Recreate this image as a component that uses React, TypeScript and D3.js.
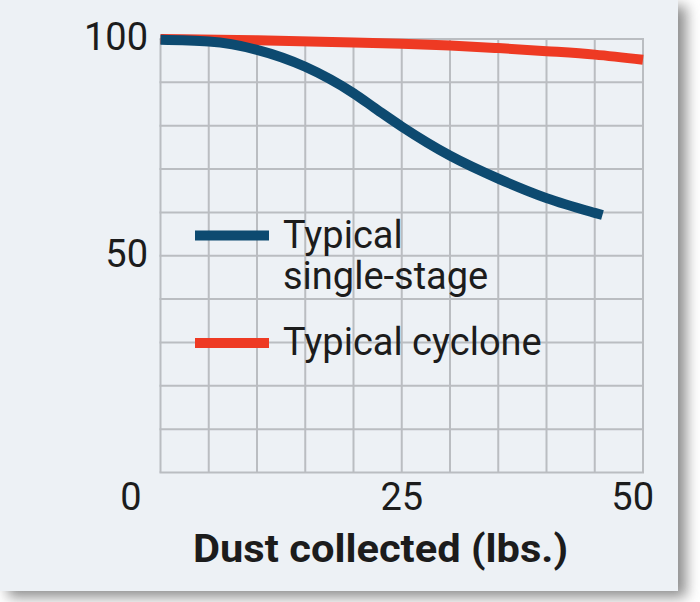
import React, { useEffect, useRef } from 'react';
import * as d3 from 'd3';

// Dust collected (lbs.) vs. suction (% of max)
const singleStageX = [0, 5, 10, 15, 20, 22.5, 25, 30, 35, 40, 45, 45.8];
const singleStageY = [99.8, 99.4, 97.5, 93.6, 87.5, 83.6, 79.8, 73.1, 67.8, 63.3, 59.9, 59.4];

const cycloneX = [0, 10, 20, 25, 30, 35, 40, 45, 50];
const cycloneY = [100, 99.7, 99.2, 98.9, 98.5, 97.9, 97.2, 96.4, 95.2];

const xTicks = [0, 25, 50];
const yTicks = [50, 100];

const legendItems = [
  { label: ['Typical', 'single-stage'], color: '#0d4a70' },
  { label: ['Typical cyclone'], color: '#ee3a23' },
];

const FONT = "Roboto, 'Liberation Sans', sans-serif";
const TEXT = '#1c1c1c';

const App: React.FC = () => {
  const svgRef = useRef<SVGSVGElement>(null);

  useEffect(() => {
    const W = 700;
    const H = 602;
    const svg = d3.select(svgRef.current);
    svg.selectAll('*').remove();
    svg.attr('width', W).attr('height', H).style('background', '#ffffff');

    // Panel with soft drop shadow
    const defs = svg.append('defs');
    const blur = defs.append('filter').attr('id', 'shadow')
      .attr('x', '-10%').attr('y', '-10%').attr('width', '130%').attr('height', '130%');
    blur.append('feGaussianBlur').attr('stdDeviation', 7);

    svg.append('rect')
      .attr('x', 8).attr('y', 6)
      .attr('width', 678).attr('height', 591)
      .attr('fill', '#8a8a8a')
      .attr('filter', 'url(#shadow)');
    svg.append('rect')
      .attr('x', 0).attr('y', 0)
      .attr('width', 678).attr('height', 591)
      .attr('fill', '#edf1f5');

    const x = d3.scaleLinear().domain([0, 50]).range([160.5, 643]);
    const y = d3.scaleLinear().domain([0, 100]).range([472.5, 39]);

    // Grid
    const grid = svg.append('g').attr('stroke', '#babdc1').attr('stroke-width', 2);
    grid.selectAll('.vline')
      .data(d3.range(0, 51, 5))
      .enter().append('line')
      .attr('x1', d => x(d)).attr('x2', d => x(d))
      .attr('y1', y(0)).attr('y2', y(100));
    grid.selectAll('.hline')
      .data(d3.range(0, 101, 10))
      .enter().append('line')
      .attr('x1', x(0) - 1).attr('x2', x(50) + 1)
      .attr('y1', d => y(d)).attr('y2', d => y(d));

    // Lines
    const line = d3.line<[number, number]>()
      .x(d => x(d[0]))
      .y(d => y(d[1]))
      .curve(d3.curveMonotoneX);

    const cyclone = cycloneX.map((v, i) => [v, cycloneY[i]] as [number, number]);
    const single = singleStageX.map((v, i) => [v, singleStageY[i]] as [number, number]);

    svg.append('path')
      .datum(cyclone)
      .attr('fill', 'none')
      .attr('stroke', legendItems[1].color)
      .attr('stroke-width', 10)
      .attr('d', line);

    svg.append('path')
      .datum(single)
      .attr('fill', 'none')
      .attr('stroke', legendItems[0].color)
      .attr('stroke-width', 10)
      .attr('d', line);

    // Y tick labels
    svg.selectAll('.ytick')
      .data(yTicks)
      .enter().append('text')
      .attr('x', 148)
      .attr('y', d => y(d) + 11)
      .attr('text-anchor', 'end')
      .style('font-family', FONT)
      .style('font-size', '38px')
      .style('fill', TEXT)
      .text(d => String(d));

    // X tick labels (0 sits at the corner, 50 pulled inside the panel)
    svg.selectAll('.xtick')
      .data(xTicks)
      .enter().append('text')
      .attr('x', (d, i) => (i === 0 ? x(d) - 19 : i === xTicks.length - 1 ? x(d) + 11 : x(d)))
      .attr('y', 510)
      .attr('text-anchor', (_, i) => (i === 0 || i === xTicks.length - 1 ? 'end' : 'middle'))
      .style('font-family', FONT)
      .style('font-size', '38px')
      .style('fill', TEXT)
      .text(d => String(d));

    // X axis title
    svg.append('text')
      .attr('x', 193)
      .attr('y', 562)
      .attr('textLength', 375)
      .attr('lengthAdjust', 'spacingAndGlyphs')
      .style('font-family', FONT)
      .style('font-size', '38px')
      .style('font-weight', 'bold')
      .style('fill', TEXT)
      .text('Dust collected (lbs.)');

    // Legend
    const legendY = [235.5, 343];
    legendItems.forEach((item, i) => {
      const g = svg.append('g').attr('transform', `translate(195, ${legendY[i]})`);
      g.append('line')
        .attr('x1', 0).attr('x2', 74)
        .attr('y1', 0).attr('y2', 0)
        .attr('stroke', item.color)
        .attr('stroke-width', 10);
      const t = g.append('text')
        .attr('x', 88)
        .attr('y', 12)
        .style('font-family', FONT)
        .style('font-size', '38px')
        .style('fill', TEXT);
      item.label.forEach((s, j) => {
        t.append('tspan')
          .attr('x', 88)
          .attr('dy', j === 0 ? 0 : 41.5)
          .text(s);
      });
    });
  }, []);

  return (
    <div style={{ position: 'absolute', left: 0, top: 0 }}>
      <svg ref={svgRef} style={{ display: 'block' }}></svg>
    </div>
  );
};

export default App;
